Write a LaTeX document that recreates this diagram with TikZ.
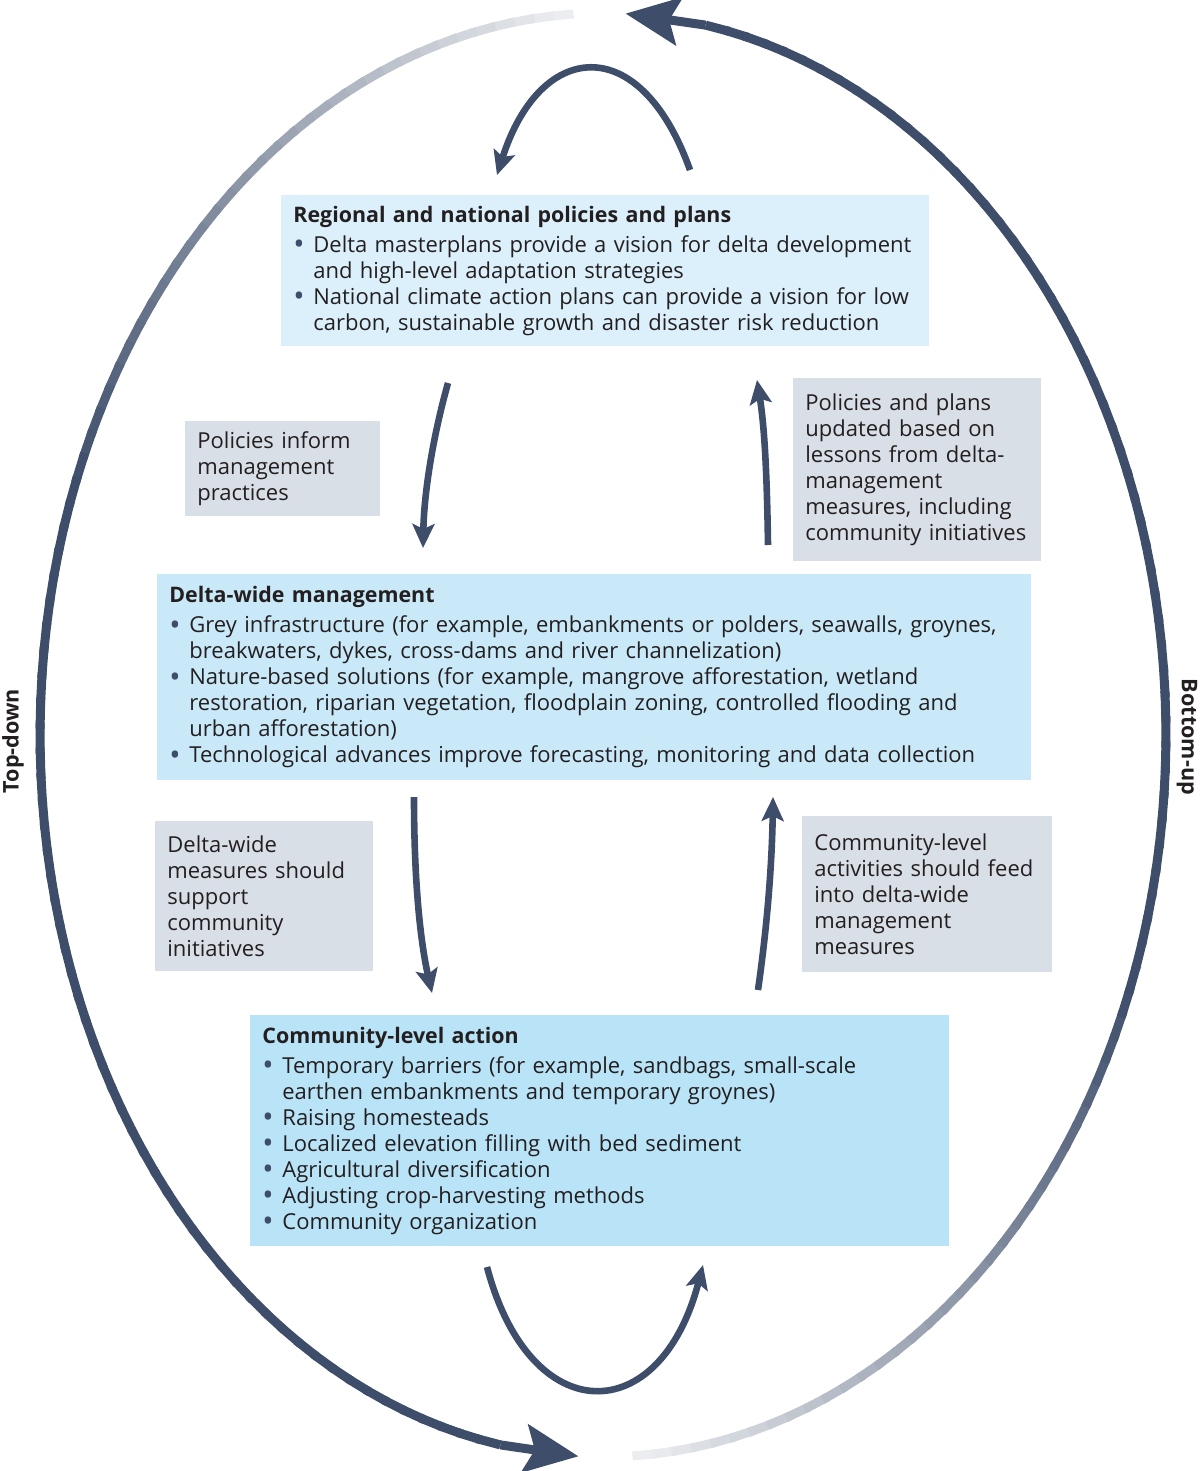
\documentclass[tikz,border=0pt]{standalone}
\usepackage{fontspec}
\setmainfont{Open Sans}
\usetikzlibrary{arrows.meta}
\definecolor{navy}{HTML}{3D4D6A}
\definecolor{txt}{HTML}{231F20}
\definecolor{boxa}{HTML}{DCF0FB}
\definecolor{boxb}{HTML}{C9E9F9}
\definecolor{boxc}{HTML}{B9E3F7}
\definecolor{notegray}{HTML}{D9DFE7}
\newcommand\bul{\makebox[10pt][l]{\hspace{0pt}\raisebox{-1.2pt}{\textcolor{navy}{\fontsize{15}{13}\selectfont\textbullet}}}}
\newcommand\ind{\hspace*{10pt}}
\newcommand\heading[1]{{\fontsize{10.7}{13}\selectfont\bfseries #1}}
\begin{document}
\begin{tikzpicture}[x=0.5pt,y=-0.5pt]
  \tikzstyle{every node}=[font=\fontsize{11}{13}\selectfont,text=txt,align=left]
  \tikzstyle{panel}=[anchor=north west,inner xsep=6pt,inner ysep=0pt]
  \tikzstyle{note}=[panel,fill=notegray]
  \tikzstyle{flow}=[draw=navy,line width=3.3pt,-{Stealth[length=12pt,width=11pt,inset=2.5pt]}]
  \tikzstyle{cycle}=[navy,line width=4.5pt,-{Stealth[length=27pt,width=24pt,inset=5pt]}]
  \tikzstyle{side}=[font=\fontsize{10.8}{12}\selectfont\bfseries]
  \useasboundingbox (0,0) rectangle (1200,1471);

  \foreach \a in {93,95,...,257}{
    \pgfmathtruncatemacro\p{min(100,10+90*(\a-93)/65)}
    \draw[navy!\p!white,line width=4.5pt] ({603+563*cos(\a)},{735-722*sin(\a)}) -- ({603+563*cos(\a+2.5)},{735-722*sin(\a+2.5)});
  }
  \foreach \a in {-87,-85,...,77}{
    \pgfmathtruncatemacro\p{min(100,10+90*(\a+87)/65)}
    \draw[navy!\p!white,line width=4.5pt] ({603+563*cos(\a)},{735-722*sin(\a)}) -- ({603+563*cos(\a+2.5)},{735-722*sin(\a+2.5)});
  }
  \coordinate (ldn) at ({603+563*cos(259.5)},{735-722*sin(259.5)});
  \coordinate (ltip) at ({603+563*cos(267.5)},{735-722*sin(267.5)});
  \coordinate (rup) at ({603+563*cos(79.5)},{735-722*sin(79.5)});
  \coordinate (rtip) at ({603+563*cos(87.7)},{735-722*sin(87.7)});
  \draw[cycle] (ldn) -- (ltip);
  \draw[cycle] (rup) -- (rtip);

  \node[side,rotate=90] (topdown) at (13,741) {Top-down};
  \node[side,rotate=-90] (bottomup) at (1187,737) {Bottom-up};

  \node[panel,fill=boxa,text width=312pt,minimum height=75.5pt] (reg) at (281,195) {\heading{Regional and national policies and plans}\\[2pt]
    \bul Delta masterplans provide a vision for delta development\\
    \ind and high-level adaptation strategies\\
    \bul National climate action plans can provide a vision for low\\
    \ind carbon, sustainable growth and disaster risk reduction};
  \node[panel,fill=boxb,text width=425pt,minimum height=103pt] (delta) at (157,574) {\heading{Delta-wide management}\\[2pt]
    \bul Grey infrastructure (for example, embankments or polders, seawalls, groynes,\\
    \ind breakwaters, dykes, cross-dams and river channelization)\\
    \bul Nature-based solutions (for example, mangrove afforestation, wetland\\
    \ind restoration, riparian vegetation, floodplain zoning, controlled flooding and\\
    \ind urban afforestation)\\
    \bul Technological advances improve forecasting, monitoring and data collection};
  \node[panel,fill=boxc,text width=337.5pt,minimum height=115.5pt] (comm) at (250,1015) {\heading{Community-level action}\\[2pt]
    \bul Temporary barriers (for example, sandbags, small-scale\\
    \ind earthen embankments and temporary groynes)\\
    \bul Raising homesteads\\
    \bul Localized elevation filling with bed sediment\\
    \bul Agricultural diversification\\
    \bul Adjusting crop-harvesting methods\\
    \bul Community organization};

  \node[note,text width=85.5pt,minimum height=47.5pt] (inform) at (185,421) {Policies inform\\management\\practices};
  \node[note,text width=112pt,minimum height=91.5pt] (update) at (793,378) {Policies and plans\\updated based on\\lessons from delta-\\management\\measures, including\\community initiatives};
  \node[note,text width=97pt,minimum height=75pt] (support) at (155,821) {Delta-wide\\measures should\\support\\community\\initiatives};
  \node[note,text width=113pt,minimum height=78pt] (feed) at (802,816) {Community-level\\activities should feed\\into delta-wide\\management\\measures};

  \coordinate (t1) at (690,170); \coordinate (t2) at (497,175);
  \coordinate (a1) at (448,383); \coordinate (a2) at (423,548);
  \coordinate (b1) at (768,545); \coordinate (b2) at (757,380);
  \coordinate (c1) at (414,797); \coordinate (c2) at (432,993);
  \coordinate (d1) at (758,990); \coordinate (d2) at (773,797);
  \coordinate (e1) at (487,1267); \coordinate (e2) at (703,1265);
  \draw[flow] (t1) .. controls (640,30) and (540,40) .. (t2);
  \draw[flow] (a1) .. controls (432,440) and (424,495) .. (a2);
  \draw[flow] (b1) .. controls (767,480) and (765,430) .. (b2);
  \draw[flow] (c1) .. controls (414,880) and (420,940) .. (c2);
  \draw[flow] (d1) .. controls (768,920) and (772,860) .. (d2);
  \draw[flow] (e1) .. controls (530,1430) and (660,1430) .. (e2);
\end{tikzpicture}
\end{document}
